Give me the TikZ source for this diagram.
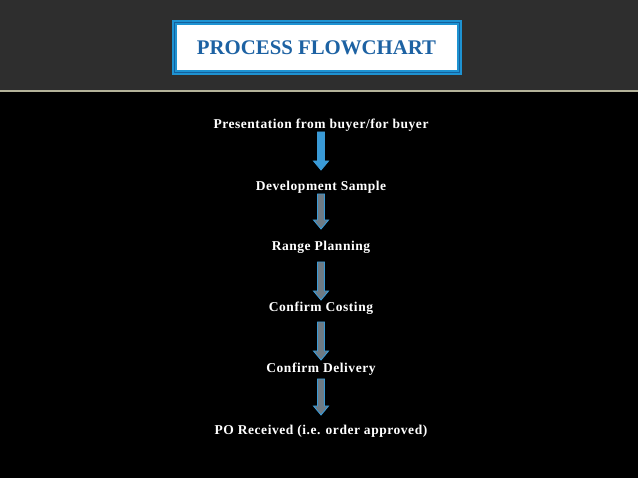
\documentclass[tikz,border=0pt]{standalone}
\usepackage{fontspec}
\setmainfont{Liberation Serif}
\newfontfamily\stepfont[LetterSpace=4]{Liberation Serif}
\begin{document}
\begin{tikzpicture}[x=1pt,y=-1pt,
  steptext/.style={text=white,font=\stepfont\bfseries\fontsize{13.5}{15}\selectfont,inner sep=1pt},
  flowarrow/.style={draw=arrowblue,line width=0.9pt,fill=arrowgray},
]
\definecolor{bandgray}{HTML}{2E2E2E}
\definecolor{bandline}{HTML}{B4B39A}
\definecolor{titleblue}{HTML}{1D62A3}
\definecolor{borderblue}{HTML}{1E93D2}
\definecolor{borderdark}{HTML}{14609C}
\definecolor{arrowblue}{HTML}{3A9AD6}
\definecolor{arrowgray}{HTML}{6E7B85}
\useasboundingbox (0,0) rectangle (638,478);
\fill[black] (0,0) rectangle (638,478);
\fill[bandgray] (0,0) rectangle (638,90);
\fill[bandline] (0,90.5) rectangle (638,92);
% title box
\fill[borderblue] (171.5,20) rectangle (462,75);
\draw[borderdark,line width=0.8pt] (174,22.5) rectangle (459.5,72.5);
\fill[white] (176.5,25) rectangle (457,70);
\node[text=titleblue,font=\bfseries\fontsize{20.8}{24}\selectfont] (title) at (316.5,48) {PROCESS FLOWCHART};
% steps
\node[steptext] (s1) at (321,125.5) {Presentation from buyer/for buyer};
\node[steptext] (s2) at (321,187.5) {Development Sample};
\node[steptext] (s3) at (321,247.5) {Range Planning};
\node[steptext] (s4) at (321,308.5) {Confirm Costing};
\node[steptext] (s5) at (321,369.5) {Confirm Delivery};
\node[steptext] (s6) at (321,431.5) {PO Received (i.e. order approved)};
% arrows (block arrows between steps)
\foreach \a/\b/\top/\bot/\fc in {s1/s2/132/170/arrowblue, s2/s3/194/229/arrowgray, s3/s4/262/300/arrowgray, s4/s5/322/360/arrowgray, s5/s6/379/415/arrowgray}{
  \pgfmathsetmacro{\hs}{\bot-9}
  \draw[flowarrow,fill=\fc] (317.5,\top) -- (324.5,\top) -- (324.5,\hs) -- (328.5,\hs) -- (321,\bot) -- (313.5,\hs) -- (317.5,\hs) -- cycle;
}
\end{tikzpicture}
\end{document}
